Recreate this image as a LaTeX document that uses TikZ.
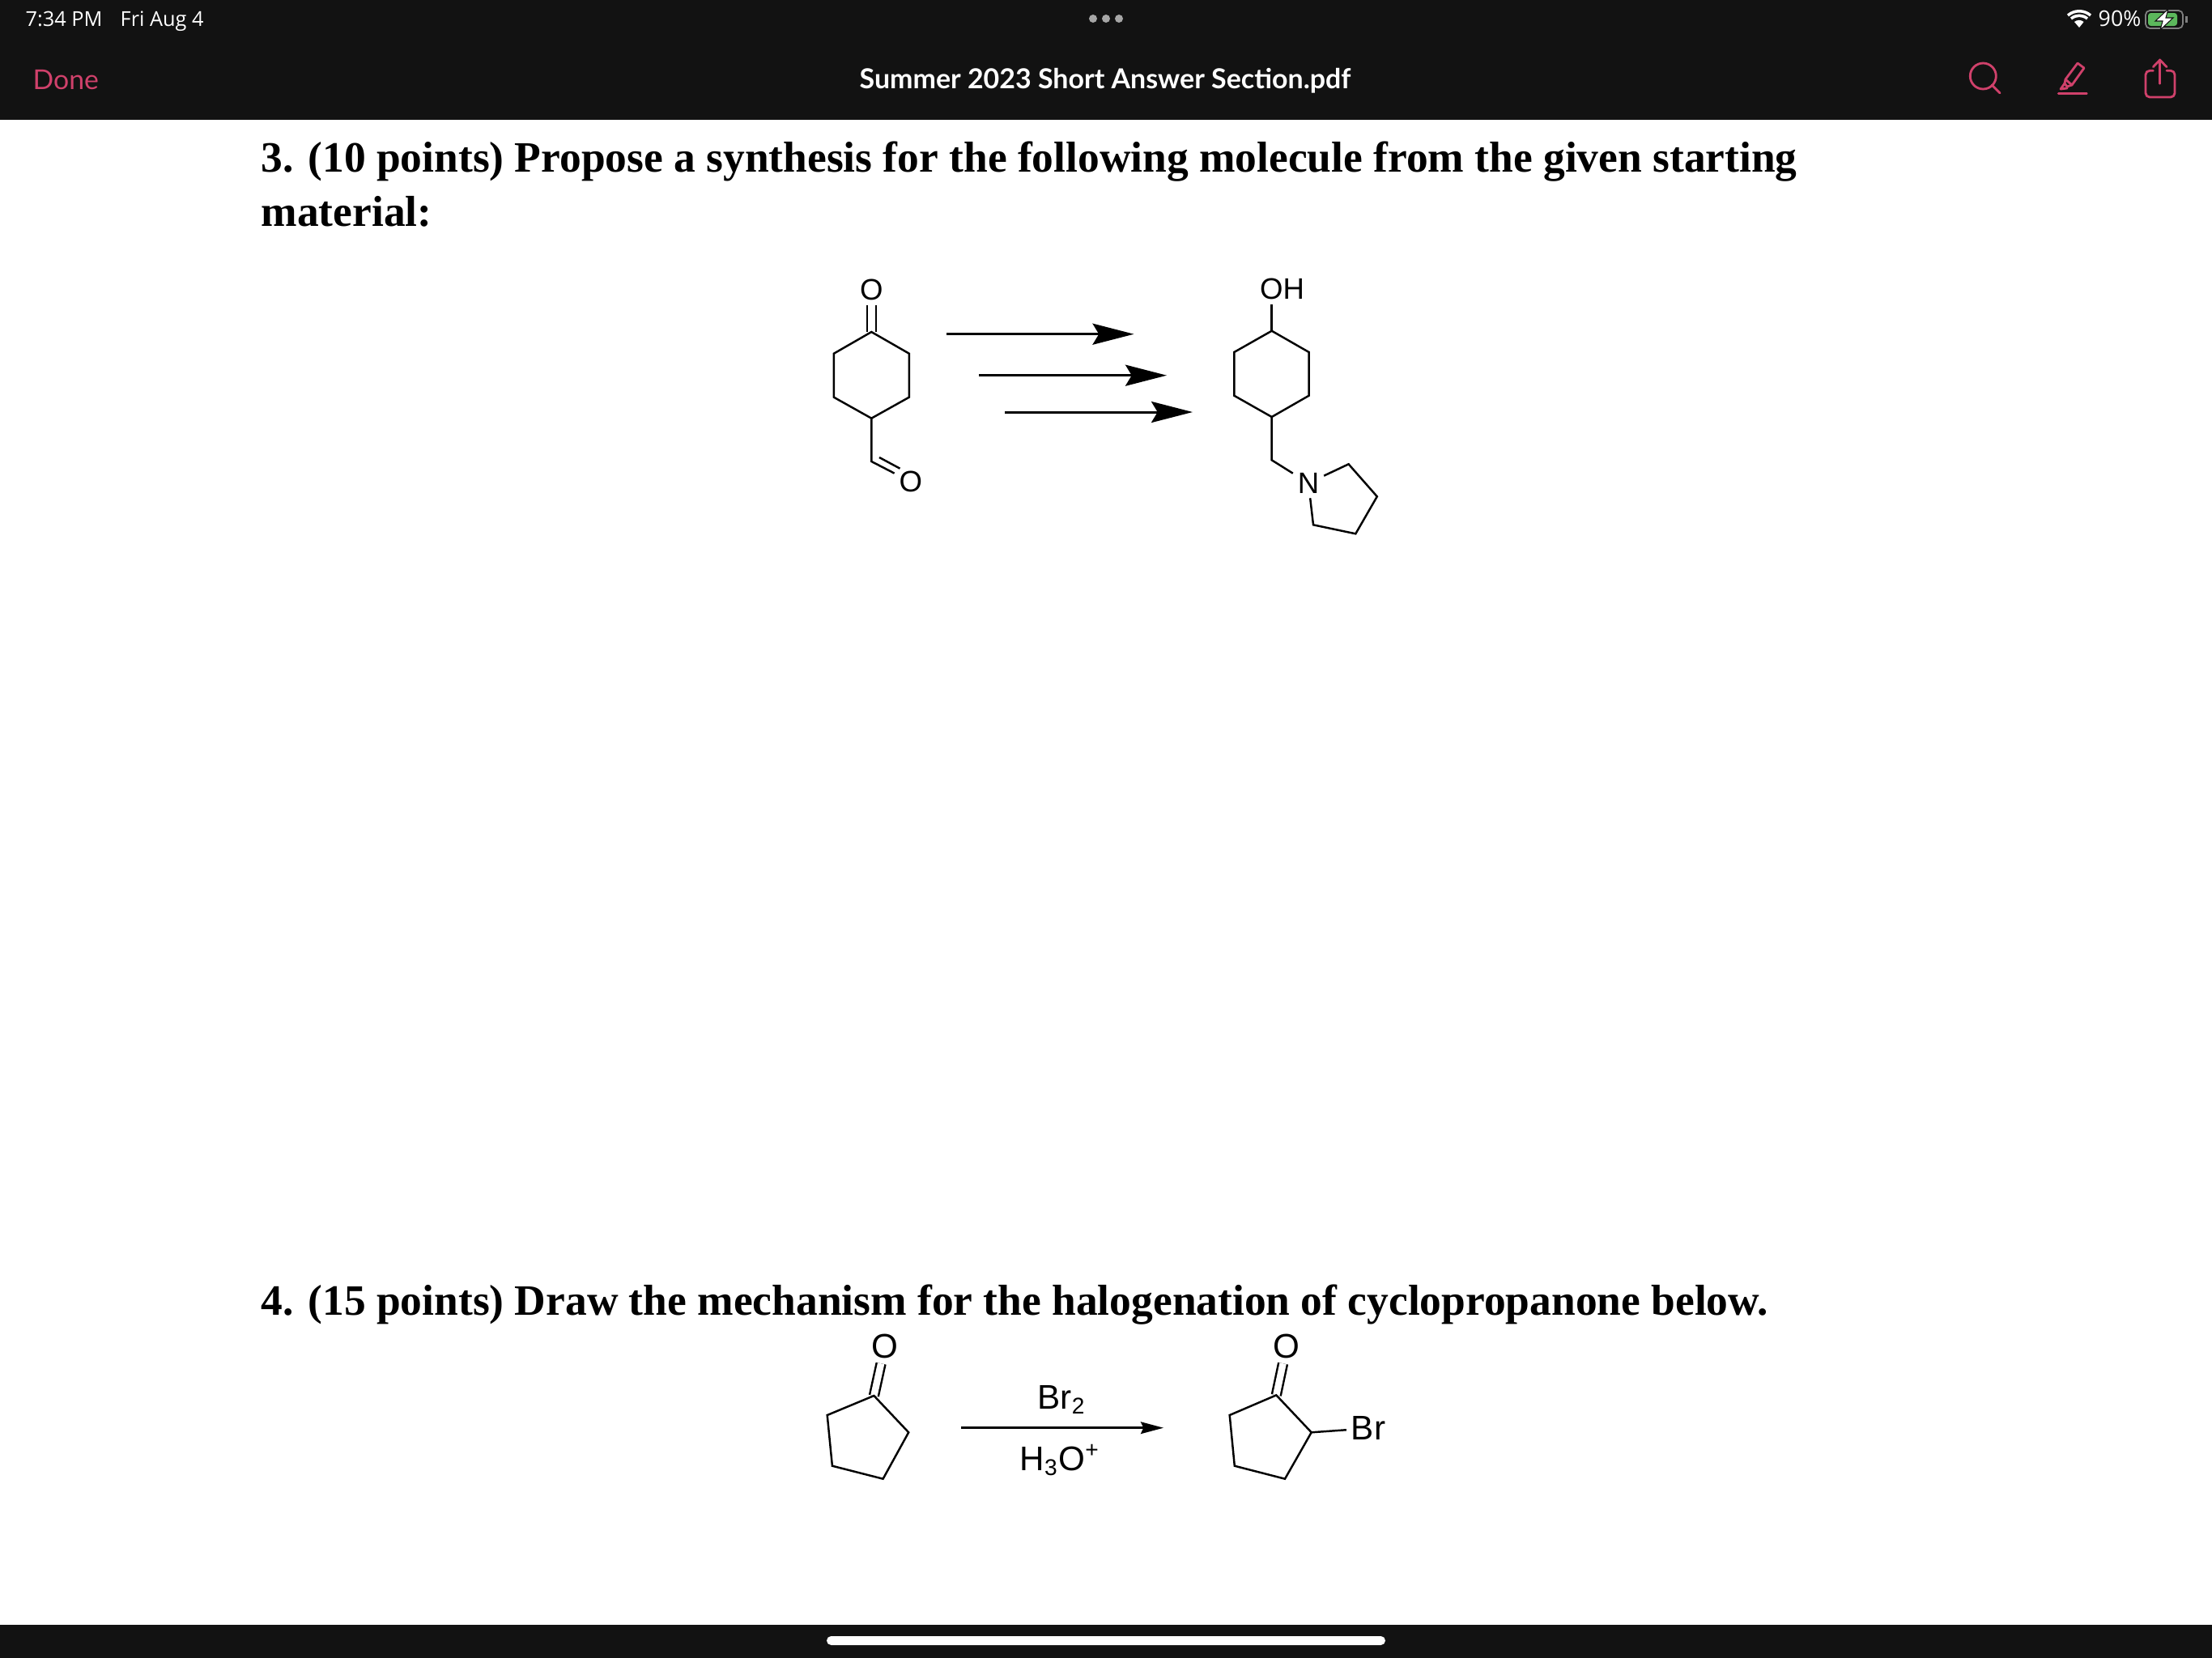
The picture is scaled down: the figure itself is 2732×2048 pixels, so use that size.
\documentclass[tikz,border=0pt]{standalone}
\usepackage{fontspec}
\usepackage{xcolor}
\usetikzlibrary{arrows.meta}
\setmainfont{Liberation Serif}
\setsansfont{Liberation Sans}
\newfontfamily\latofont{Lato}
\newfontfamily\statusfont{Open Sans}
\definecolor{barblack}{HTML}{121212}
\definecolor{accent}{HTML}{D0416B}
\definecolor{batterygreen}{HTML}{5CB85C}
\tikzstyle{atom} = [inner sep=1.5pt, font=\sffamily\fontsize{10.4}{12}\selectfont]
\tikzstyle{bigatom} = [inner sep=1.5pt, font=\sffamily\fontsize{12}{14}\selectfont]
\tikzset{bond/.style={draw=black, line width=0.7pt, line join=miter},
    dbond/.style={bond, double, double distance=2.4pt},
    longarrow/.style={line width=0.85pt, -{Stealth[length=14.5pt, width=7.4pt, inset=2.2pt]}},
    shortarrow/.style={line width=0.7pt, -{Stealth[length=8pt, width=4.2pt, inset=1pt]}},
    heading/.style={anchor=base west, inner sep=0pt, font=\bfseries\fontsize{15.2}{18}\selectfont},
    status/.style={anchor=base west, inner sep=0pt, text=white, font=\statusfont\fontsize{7.2}{8}\selectfont},
    icon/.style={draw=accent, line width=0.8pt, line cap=round, line join=round}}

\begin{document}
\begin{tikzpicture}[x=0.01cm, y=-0.01cm]
    \useasboundingbox (0,0) rectangle (2732,2048);
    % Bars of the screen
    \fill[white] (0,0) rectangle (2732,2048);
    \fill[barblack] (0,0) rectangle (2732,148);
    \fill[barblack] (0,2007) rectangle (2732,2048);
    \fill[white, rounded corners=5.5*0.01cm] (1021,2021) rectangle (1711,2032);
    %
    \node[status] (clock) at (31,32) {7:34 PM};
    \node[status] (date) at (148,32) {Fri Aug 4};
    \node[status, font=\statusfont\fontsize{7.6}{8}\selectfont] (charge) at (2591,32) {90\%};
    \foreach \dotx in {1350,1366,1382}
        \fill[gray!70] (\dotx,23) circle (5);
    \node[anchor=base west, inner sep=0pt, text=accent, font=\latofont\fontsize{9.6}{12}\selectfont] (done) at (40,110) {Done};
    \node[anchor=base, inner sep=0pt, text=white, font=\latofont\bfseries\fontsize{9.65}{12}\selectfont] (title) at (1365,109) {Summer 2023 Short Answer Section.pdf};
    % Wifi and battery
    \fill[white] (2568,34) -- (2562,27) arc[start angle=-130, end angle=-50, radius=9] -- cycle;
    \draw[white, line width=1pt] (2558,23) .. controls (2564,18) and (2572,18) .. (2578,23);
    \draw[white, line width=1pt] (2554,19) .. controls (2562,12) and (2574,12) .. (2582,19);
    \draw[gray, line width=0.5pt, rounded corners=1.5pt] (2650,13) rectangle (2696,35);
    \fill[batterygreen, rounded corners=1pt] (2653,16) rectangle (2689,32);
    \fill[gray] (2699,20) rectangle (2702,28);
    \draw[barblack, fill=white, line width=0.3pt] (2678,11) -- (2662,26) -- (2671,26) -- (2668,37) -- (2684,22) -- (2675,22) -- cycle;
    % Search, highlighter and share
    \draw[icon] (2449.3,94) circle (16);
    \draw[icon] (2460,105) -- (2470,115);
    \draw[icon] (2566,78) -- (2574,84) -- (2559,105) -- (2551,98) -- cycle;
    \draw[icon] (2551,98) -- (2550,103) -- (2553,107) -- (2559,105);
    \draw[icon] (2550,103) -- (2545,110) -- (2553,109) -- (2553,107);
    \draw[icon] (2542.3,115.7) -- (2577.3,115.7);
    \draw[icon, rounded corners=5*0.01cm] (2659.3,87.3) -- (2650,87.3) -- (2650,120) -- (2686,120) -- (2686,87.3) -- (2676,87.3);
    \draw[icon] (2667.7,103.3) -- (2667.7,74);
    \draw[icon] (2659.3,82.7) -- (2667.7,74) -- (2676,82.7);
    % Questions
    \node[heading] (qthree) at (322,212) {3. (10 points) Propose a synthesis for the following molecule from the given starting};
    \node[heading] (qthreeb) at (322,279) {material:};
    \node[heading] (qfour) at (322,1624) {4. (15 points) Draw the mechanism for the halogenation of cyclopropanone below.};
    % Definition of the starting material
    \coordinate (sa) at (1076.3,410);
    \coordinate (sb) at (1122.8,436.7);
    \coordinate (sc) at (1122.8,490.7);
    \coordinate (sd) at (1076.3,516.7);
    \coordinate (se) at (1029.9,490.7);
    \coordinate (sf) at (1029.9,436.7);
    \coordinate (scho) at (1076.3,570);
    \coordinate (schoa) at (1086,565);
    \coordinate (schob) at (1111.5,578.7);
    \node[atom] (sketo) at (1076.3,358.3) {O};
    \node[atom] (sald) at (1124.8,595) {O};
    \draw[dbond] (sa) -- (sketo);
    \draw[bond] (sa) -- (sb) -- (sc) -- (sd) -- (se) -- (sf) -- cycle;
    \draw[bond] (sd) -- (scho) -- (sald);
    \draw[bond] (schoa) -- (schob);
    % Definition of the product
    \coordinate (pa) at (1570.7,408.7);
    \coordinate (pb) at (1616.6,435);
    \coordinate (pc) at (1616.6,488.7);
    \coordinate (pd) at (1570.7,515);
    \coordinate (pe) at (1524.3,488.7);
    \coordinate (pf) at (1524.3,435);
    \coordinate (pch) at (1570.7,568.3);
    \coordinate (pg) at (1665.6,573.3);
    \coordinate (ph) at (1700.8,613.3);
    \coordinate (pi) at (1674.3,659.3);
    \coordinate (pj) at (1622,648.3);
    \node[atom] (poh) at (1583.5,356.7) {OH};
    \node[atom] (pn) at (1616,596.7) {N};
    \draw[bond] (pa) -- (pa |- poh.south);
    \draw[bond] (pa) -- (pb) -- (pc) -- (pd) -- (pe) -- (pf) -- cycle;
    \draw[bond] (pd) -- (pch) -- (pn);
    \draw[bond] (pn) -- (pg) -- (ph) -- (pi) -- (pj) -- (pn);
    % The three arrows
    \coordinate (aone) at (1169,412.7);
    \coordinate (aoneend) at (1400.5,412.7);
    \coordinate (atwo) at (1209,463.7);
    \coordinate (atwoend) at (1441,463.7);
    \coordinate (athree) at (1241,509);
    \coordinate (athreeend) at (1473,509);
    \draw[longarrow] (aone) -- (aoneend);
    \draw[longarrow] (atwo) -- (atwoend);
    \draw[longarrow] (athree) -- (athreeend);
    % Definition of the ketone
    \coordinate (ka) at (1079.4,1724);
    \coordinate (kb) at (1122.2,1769.3);
    \coordinate (kc) at (1090.6,1826.7);
    \coordinate (kd) at (1027.9,1810.7);
    \coordinate (ke) at (1021.7,1748);
    \node[bigatom] (ko) at (1092.7,1663.3) {O};
    \draw[dbond] (ka) -- (ko);
    \draw[bond] (ka) -- (kb) -- (kc) -- (kd) -- (ke) -- cycle;
    % Definition of the bromide
    \coordinate (ba) at (1576.3,1723.3);
    \coordinate (bb) at (1619.7,1769.3);
    \coordinate (bc) at (1587,1826.7);
    \coordinate (bd) at (1524.8,1810.7);
    \coordinate (be) at (1518.7,1748);
    \node[bigatom] (bo) at (1589,1663.3) {O};
    \node[bigatom] (bbr) at (1690,1764.3) {Br};
    \draw[dbond] (ba) -- (bo);
    \draw[bond] (ba) -- (bb) -- (bc) -- (bd) -- (be) -- cycle;
    \draw[bond] (bb) -- (bbr);
    % Reaction arrow
    \coordinate (rstart) at (1187,1763.7);
    \coordinate (rend) at (1437,1763.7);
    \draw[shortarrow] (rstart) -- (rend);
    \node[bigatom, anchor=base west, inner sep=0pt] (reagent) at (1281,1740) {Br\textsubscript{2}};
    \node[bigatom, anchor=base west, inner sep=0pt] (acid) at (1259,1816) {H\textsubscript{3}O\textsuperscript{+}};
\end{tikzpicture}
\end{document}
